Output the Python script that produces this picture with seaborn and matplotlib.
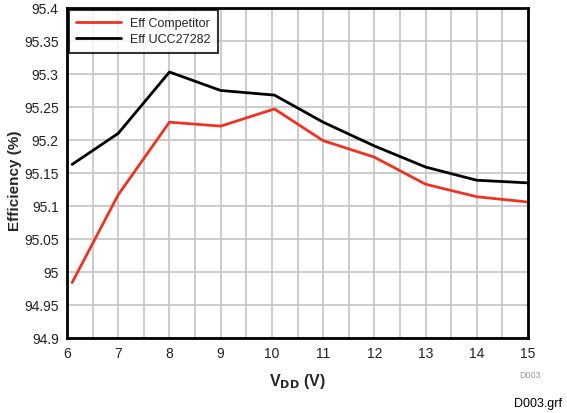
import numpy as np
import pandas as pd
import matplotlib
matplotlib.use("Agg")
import matplotlib.pyplot as plt
import seaborn as sns
from matplotlib.ticker import MultipleLocator

vdd = [6.1, 7, 8, 9, 10.05, 11, 12, 13, 14, 15]
eff_competitor = [94.984, 95.117, 95.227, 95.221, 95.247, 95.199, 95.174, 95.133, 95.114, 95.106]
eff_ucc = [95.163, 95.210, 95.303, 95.275, 95.268, 95.227, 95.191, 95.159, 95.139, 95.135]
series_names = ["Eff Competitor", "Eff UCC27282"]
colors = ["#EE3322", "#000000"]

df = pd.concat([
    pd.DataFrame({"VDD": vdd, "Efficiency": eff_competitor, "Series": series_names[0]}),
    pd.DataFrame({"VDD": vdd, "Efficiency": eff_ucc, "Series": series_names[1]}),
])

sns.set_theme(style="white")
plt.rcParams['font.family'] = ['Liberation Sans', 'DejaVu Sans']

fig = plt.figure(figsize=(5.67, 4.14), dpi=100)
ax = fig.add_axes([0.1182, 0.1812, 0.813, 0.7971])

sns.lineplot(data=df, x="VDD", y="Efficiency", hue="Series", palette=colors,
             hue_order=series_names, linewidth=2, ax=ax, sort=False)

ax.set_xlim(6, 15)
ax.set_ylim(94.9, 95.4)
ax.xaxis.set_major_locator(MultipleLocator(1))
ax.xaxis.set_minor_locator(MultipleLocator(0.5))
yt = np.round(np.arange(94.9, 95.4001, 0.05), 2)
ax.set_yticks(yt)
ax.set_yticklabels([f"{v:g}" for v in yt])
ax.grid(True, which="both", color="#c8c8c8", linewidth=1.3)
ax.set_axisbelow(True)
for s in ax.spines.values():
    s.set_color("black")
    s.set_linewidth(2)
ax.tick_params(axis="both", which="both", length=0, labelsize=10, colors="#222222", pad=6)

ax.set_xlabel(r"V$_{\mathbf{DD}}$ (V)", fontsize=11.5, fontweight="bold")
ax.set_ylabel("Efficiency (%)", fontsize=11, fontweight="bold")
ax.xaxis.set_label_coords((297 - 67) / 461, (339 - 372) / 330)
ax.yaxis.set_label_coords((22 - 67) / 461, 0.5 - 0.02)

leg = ax.legend(loc="upper left", frameon=True, fontsize=9, handlelength=3.6,
                borderaxespad=0.15, fancybox=False, borderpad=0.6, labelspacing=0.3,
                handletextpad=0.7)
leg.get_frame().set_edgecolor("black")
leg.get_frame().set_linewidth(1.5)
leg.set_title(None)

fig.text(530/567, 1 - 376/414, "D003", fontsize=6.5, color="#999999", ha="center", va="center")
fig.text(562/567, 1 - 404/414, "D003.grf", fontsize=9, color="black", ha="right", va="center")

fig.savefig("out.png", dpi=100)
